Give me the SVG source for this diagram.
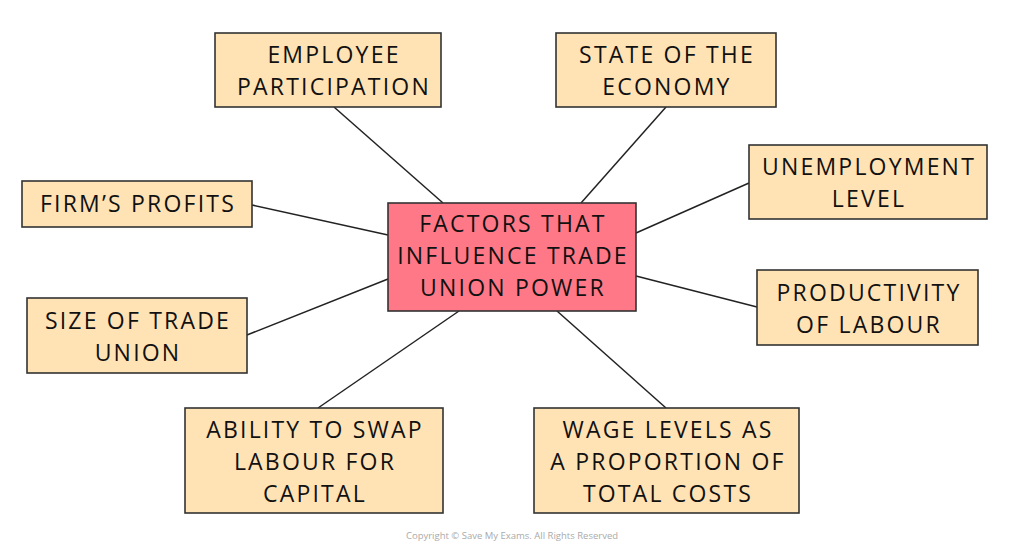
<svg xmlns="http://www.w3.org/2000/svg" width="1024" height="552" viewBox="0 0 1024 552">
<style>
.box{fill:#FFE3B5;stroke:#333;stroke-width:1.6}
.core{fill:#FF7887;stroke:#333;stroke-width:1.6}
.t{font-family:"Open Sans","Liberation Sans",sans-serif;font-size:23px;fill:#111;text-anchor:middle;letter-spacing:2.2px}
.c{stroke:#222;stroke-width:1.5;fill:none}
.cp{font-family:"Open Sans","Liberation Sans",sans-serif;font-size:9.5px;fill:#aaa;text-anchor:middle}
</style>
<rect width="1024" height="552" fill="#fff"/>
<g id="connectors">
<line class="c" x1="334" y1="107" x2="443" y2="203"/>
<line class="c" x1="666" y1="107" x2="581" y2="203"/>
<line class="c" x1="749" y1="183" x2="636" y2="233"/>
<line class="c" x1="252" y1="205" x2="388" y2="235"/>
<line class="c" x1="757" y1="307" x2="636" y2="276"/>
<line class="c" x1="247" y1="335" x2="388" y2="279"/>
<line class="c" x1="318" y1="408" x2="459" y2="311"/>
<line class="c" x1="666" y1="408" x2="557" y2="311"/>
</g>
<g id="center">
<rect class="core" x="388" y="203" width="248" height="108"/>
<text class="t" x="513" y="232">FACTORS THAT</text>
<text class="t" x="513" y="264">INFLUENCE TRADE</text>
<text class="t" x="513" y="296">UNION POWER</text>
</g>
<g id="employee">
<rect class="box" x="215" y="33" width="226" height="74"/>
<text class="t" x="334" y="63">EMPLOYEE</text>
<text class="t" x="334" y="95">PARTICIPATION</text>
</g>
<g id="economy">
<rect class="box" x="556" y="33" width="220" height="74"/>
<text class="t" x="667" y="63">STATE OF THE</text>
<text class="t" x="667" y="95">ECONOMY</text>
</g>
<g id="unemployment">
<rect class="box" x="749" y="145" width="238" height="74"/>
<text class="t" x="869" y="175">UNEMPLOYMENT</text>
<text class="t" x="869" y="207">LEVEL</text>
</g>
<g id="profits">
<rect class="box" x="22" y="181" width="230" height="46"/>
<text class="t" x="138" y="212">FIRM’S PROFITS</text>
</g>
<g id="productivity">
<rect class="box" x="757" y="270" width="221" height="75"/>
<text class="t" x="869" y="301">PRODUCTIVITY</text>
<text class="t" x="869" y="333">OF LABOUR</text>
</g>
<g id="size">
<rect class="box" x="27" y="298" width="220" height="75"/>
<text class="t" x="138" y="329">SIZE OF TRADE</text>
<text class="t" x="138" y="361">UNION</text>
</g>
<g id="ability">
<rect class="box" x="185" y="408" width="258" height="105"/>
<text class="t" x="315" y="438">ABILITY TO SWAP</text>
<text class="t" x="315" y="470">LABOUR FOR</text>
<text class="t" x="315" y="502">CAPITAL</text>
</g>
<g id="wage">
<rect class="box" x="534" y="408" width="265" height="105"/>
<text class="t" x="668" y="438">WAGE LEVELS AS</text>
<text class="t" x="668" y="470">A PROPORTION OF</text>
<text class="t" x="668" y="502">TOTAL COSTS</text>
</g>
<text class="cp" x="512" y="539">Copyright © Save My Exams. All Rights Reserved</text>
</svg>
